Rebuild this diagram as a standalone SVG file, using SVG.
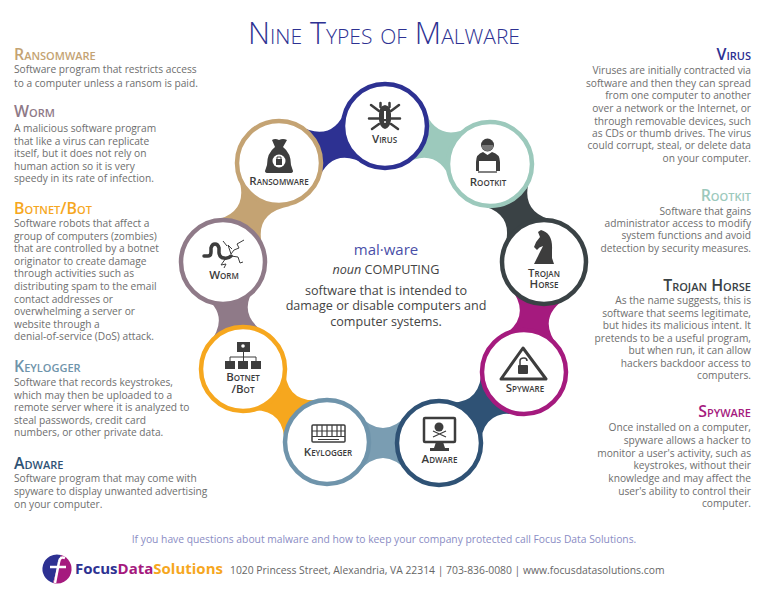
<svg xmlns="http://www.w3.org/2000/svg" xmlns:xlink="http://www.w3.org/1999/xlink" width="768" height="594" viewBox="0 0 768 594">
<style>
text{font-family:"Open Sans","Noto Sans","Liberation Sans",sans-serif}
.b{font-size:10.2px;fill:#6e6e6e;font-weight:400}
.r{text-anchor:end}
.h{font-size:15.9px;font-variant:small-caps;font-weight:600}
.l{font-size:11.5px;font-variant:small-caps;fill:#3b3b3b;text-anchor:middle;font-weight:600}
.c{text-anchor:middle;fill:#444;font-size:12.6px}
.i{fill:#3d3d3d}
.s{fill:none;stroke:#3d3d3d}
.ring{fill:#fff;stroke-width:4.500}
</style>
<defs><path id="neck" d="M30-30Q56 0 82-30L82 30Q56 0 30 30Z"/></defs>
<rect width="768" height="594" fill="#fff"/>
<text x="384" y="44" text-anchor="middle" font-size="30.500" font-weight="300" fill="#2d3192" style="font-variant:small-caps">Nine Types of Malware</text>
<g id="connectors">
<use xlink:href="#neck" href="#neck" fill="#9cc9bc" transform="translate(385 126) rotate(20)"/>
<use xlink:href="#neck" href="#neck" fill="#3a4245" transform="translate(490 164) rotate(61)"/>
<use xlink:href="#neck" href="#neck" fill="#a51a7e" transform="translate(544 262) rotate(100)"/>
<use xlink:href="#neck" href="#neck" fill="#2f5275" transform="translate(524 372) rotate(140)"/>
<use xlink:href="#neck" href="#neck" fill="#7a9db2" transform="translate(439 443) rotate(180)"/>
<use xlink:href="#neck" href="#neck" fill="#f6a71e" transform="translate(327 442) rotate(221)"/>
<use xlink:href="#neck" href="#neck" fill="#8f7a88" transform="translate(243 369) rotate(260)"/>
<use xlink:href="#neck" href="#neck" fill="#c4a373" transform="translate(223 262) rotate(-60)"/>
<use xlink:href="#neck" href="#neck" fill="#2d3192" transform="translate(279 163) rotate(-19)"/>
</g>
<g id="virus"><circle class="ring" cx="385" cy="126" r="42" stroke="#2d3192"/>
<path class="s" stroke-width="2.500" stroke-linecap="round" d="M369 118.500H400M379 111L371 105M391 111L399 105M379 124L372 129M391 124L398 129M380.500 107V103M389.500 107V103"/>
<path class="i" d="M385 105Q391 106 391 114V120Q390 128 385 129Q380 128 379 120V114Q379 106 385 105Z"/><rect x="384" y="111" width="2" height="8" fill="#fff"/><circle cx="385" cy="122" r="1" fill="#fff"/>
<text class="l" x="384.500" y="143">Virus</text></g>
<g id="rootkit"><circle class="ring" cx="490" cy="164" r="42" stroke="#9cc9bc"/>
<circle class="i" cx="487.500" cy="145" r="6.500"/><path d="M482 145H493V148Q491 151 487.500 151Q484 151 482 148Z" fill="#777"/>
<path class="i" d="M476 171V162Q476 154 483 152L487.500 155L492 152Q500 154 500 162V171Z"/>
<rect x="479" y="161" width="17" height="10" fill="#fff"/><path class="s" stroke-width="1.300" d="M478 172H497"/>
<text class="l" x="488" y="186">Rootkit</text></g>
<g id="trojan"><circle class="ring" cx="544" cy="262" r="42" stroke="#3a4245"/>
<path class="i" d="M538 232L541 230Q553 233 552 250L552 258L554 264H534L537 258Q541 250 543 246Q539 247 537 250L534 247Q536 241 540 237Z"/>
<text class="l" x="544" y="277">Trojan</text><text class="l" x="544" y="288">Horse</text></g>
<g id="spyware"><circle class="ring" cx="524" cy="372" r="42" stroke="#a51a7e"/>
<path fill="none" stroke="#3d3d3d" stroke-width="3" stroke-linejoin="round" d="M523 348L546 379H501Z"/>
<rect class="i" x="518" y="365" width="10" height="9" rx="1"/><path class="s" stroke-width="1.500" d="M520 365V361Q520 358 524 358Q527 358 527 361"/>
<text class="l" x="525" y="392">Spyware</text></g>
<g id="adware"><circle class="ring" cx="439" cy="443" r="42" stroke="#2f5275"/>
<rect class="s" stroke-width="2.500" x="424" y="418" width="31" height="24" rx="1"/><path class="i" d="M436 442H443L445 448H449V451H430V448H434Z"/>
<circle class="i" cx="439" cy="427" r="4.500"/><path class="s" stroke-width="1.300" d="M433 431L446 437M446 431L433 437"/>
<text class="l" x="439.500" y="463">Adware</text></g>
<g id="keylogger"><circle class="ring" cx="327" cy="442" r="42" stroke="#6f94ab"/>
<rect class="s" stroke-width="1.500" x="312" y="425" width="33" height="17" rx="1"/><path class="s" stroke-width="1.200" d="M312 431H345M312 436.500H345M317 425V436M322 425V436M327 425V436M332 425V436M337 425V436M341 425V436M318 439.500H339"/>
<text class="l" x="328" y="456">Keylogger</text></g>
<g id="botnet"><circle class="ring" cx="243" cy="369" r="42" stroke="#f6a71e"/>
<rect class="i" x="237" y="342" width="13" height="10"/><circle cx="243" cy="346" r="1.800" fill="#fff"/>
<path class="s" d="M243.500 352V361M230 361V357H256V361"/><rect class="i" x="225" y="361" width="10" height="8"/><rect class="i" x="238" y="361" width="10" height="8"/><rect class="i" x="251" y="361" width="10" height="8"/>
<text class="l" x="243" y="381">Botnet</text><text class="l" x="243" y="393">/Bot</text></g>
<g id="worm"><circle class="ring" cx="223" cy="262" r="42" stroke="#8f7a88"/>
<path class="s" stroke-width="3.500" stroke-linecap="round" d="M204 256H208Q211 256 211 252V248Q212 244 215 244Q218 244 219 248V253Q220 258 224 258Q228 259 231 256"/>
<path class="s" stroke-width="1" d="M231 254L228 245L232 249M231 254L234 250L239 248L237 244L244 240M231 256L238 257L240 263L243 262M226 258L221 265L226 264L224 268M223 241L227 246"/>
<text class="l" x="224" y="279">Worm</text></g>
<g id="ransomware"><circle class="ring" cx="279" cy="163" r="42" stroke="#c4a373"/>
<path class="i" d="M272 140Q275 138 279 140Q283 138 287 140L283 147Q291 153 291 165L293 171Q293 173 290 173H268Q265 173 265 171L267 165Q267 153 275 147Z"/>
<circle cx="279" cy="161" r="6.500" fill="#fff"/><rect class="i" x="276" y="159" width="6" height="6"/><path class="s" d="M277 159V157H281V159"/>
<text class="l" x="279" y="185">Ransomware</text></g>
<g id="centre">
<text x="386" y="255" text-anchor="middle" font-size="15" fill="#4a4fa8">mal·ware</text>
<text class="c" x="386" y="274"><tspan font-style="italic">noun</tspan> COMPUTING</text>
<text class="c" x="386" y="295">software that is intended to</text>
<text class="c" x="386" y="310">damage or disable computers and</text>
<text class="c" x="386" y="326">computer systems.</text>
</g>
<g id="left-text">
<text class="h" x="14" y="60" fill="#c4a373">Ransomware</text>
<text class="b" x="14" y="73">Software program that restricts access</text>
<text class="b" x="14" y="86.500">to a computer unless a ransom is paid.</text>
<text class="h" x="14" y="117" fill="#8f7a88">Worm</text>
<text class="b" x="14" y="132">A malicious software program</text>
<text class="b" x="14" y="144.500">that like a virus can replicate</text>
<text class="b" x="14" y="157">itself, but it does not rely on</text>
<text class="b" x="14" y="170">human action so it is very</text>
<text class="b" x="14" y="182">speedy in its rate of infection.</text>
<text class="h" x="14" y="214" fill="#f6a71e">Botnet/Bot</text>
<text class="b" x="14" y="227">Software robots that affect a</text>
<text class="b" x="14" y="239.500">group of computers (zombies)</text>
<text class="b" x="14" y="252">that are controlled by a botnet</text>
<text class="b" x="14" y="264.500">originator to create damage</text>
<text class="b" x="14" y="277">through activities such as</text>
<text class="b" x="14" y="290">distributing spam to the email</text>
<text class="b" x="14" y="302.500">contact addresses  or</text>
<text class="b" x="14" y="315">overwhelming a server or</text>
<text class="b" x="14" y="327.500">website through a</text>
<text class="b" x="14" y="340">denial-of-service (DoS) attack.</text>
<text class="h" x="14" y="372" fill="#6f94ab">Keylogger</text>
<text class="b" x="14" y="386">Software that records keystrokes,</text>
<text class="b" x="14" y="398.500">which may then be uploaded to a</text>
<text class="b" x="14" y="411">remote server where it is analyzed to</text>
<text class="b" x="14" y="423.500">steal passwords, credit card</text>
<text class="b" x="14" y="436">numbers, or other private data.</text>
<text class="h" x="14" y="469" fill="#2f5275">Adware</text>
<text class="b" x="14" y="482">Software program that may come with</text>
<text class="b" x="14" y="495">spyware to display unwanted advertising</text>
<text class="b" x="14" y="508">on your computer.</text>
</g>
<g id="right-text">
<text class="h r" x="751" y="60" fill="#2d3192">Virus</text>
<text class="b r" x="751" y="74">Viruses are initially contracted via</text>
<text class="b r" x="751" y="87">software and then they can spread</text>
<text class="b r" x="751" y="99">from one computer to another</text>
<text class="b r" x="751" y="111.500">over a network or the Internet, or</text>
<text class="b r" x="751" y="124.500">through removable devices, such</text>
<text class="b r" x="751" y="136.500">as CDs or thumb drives. The virus</text>
<text class="b r" x="751" y="149">could corrupt, steal, or delete data</text>
<text class="b r" x="751" y="161.500">on your computer.</text>
<text class="h r" x="751" y="201" fill="#9cc9bc">Rootkit</text>
<text class="b r" x="751" y="214.500">Software that gains</text>
<text class="b r" x="751" y="227">administrator access to modify</text>
<text class="b r" x="751" y="239">system functions and avoid</text>
<text class="b r" x="751" y="251.500">detection by security measures.</text>
<text class="h r" x="751" y="291" fill="#3a4245">Trojan Horse</text>
<text class="b r" x="751" y="304">As the name suggests, this is</text>
<text class="b r" x="751" y="317">software that seems legitimate,</text>
<text class="b r" x="751" y="329">but hides its malicious intent.  It</text>
<text class="b r" x="751" y="342">pretends to be a useful program,</text>
<text class="b r" x="751" y="354">but when run, it can allow</text>
<text class="b r" x="751" y="367">hackers backdoor access to</text>
<text class="b r" x="751" y="379">computers.</text>
<text class="h r" x="751" y="417" fill="#a51a7e">Spyware</text>
<text class="b r" x="751" y="431">Once installed on a computer,</text>
<text class="b r" x="751" y="444">spyware allows a hacker to</text>
<text class="b r" x="751" y="457">monitor a user's activity, such as</text>
<text class="b r" x="751" y="469">keystrokes, without their</text>
<text class="b r" x="751" y="482">knowledge and may affect the</text>
<text class="b r" x="751" y="495">user's ability to control their</text>
<text class="b r" x="751" y="507">computer.</text>
</g>
<g id="footer">
<text x="384" y="543" text-anchor="middle" font-size="10.300" fill="#8a8cc4">If you have questions about malware and how to keep your company protected call Focus Data Solutions.</text>
<path d="M61 555A14.500 14.500 0 0 0 53 583Z" fill="#2d3192"/>
<path d="M61 555A14.500 14.500 0 0 1 53 583Z" fill="#a51a7e"/>
<path d="M65 558Q60 556 59 562L55 583M50 567H66" fill="none" stroke="#fff" stroke-width="2.500"/>
<text x="75" y="574" font-size="15" font-weight="700"><tspan fill="#2d3192">Focus</tspan><tspan fill="#a51a7e">Data</tspan><tspan fill="#f6a71e">Solutions</tspan></text>
<text x="230" y="574" font-size="10.350" fill="#666">1020 Princess Street, Alexandria, VA 22314 | 703-836-0080 | www.focusdatasolutions.com</text>
</g>
</svg>
